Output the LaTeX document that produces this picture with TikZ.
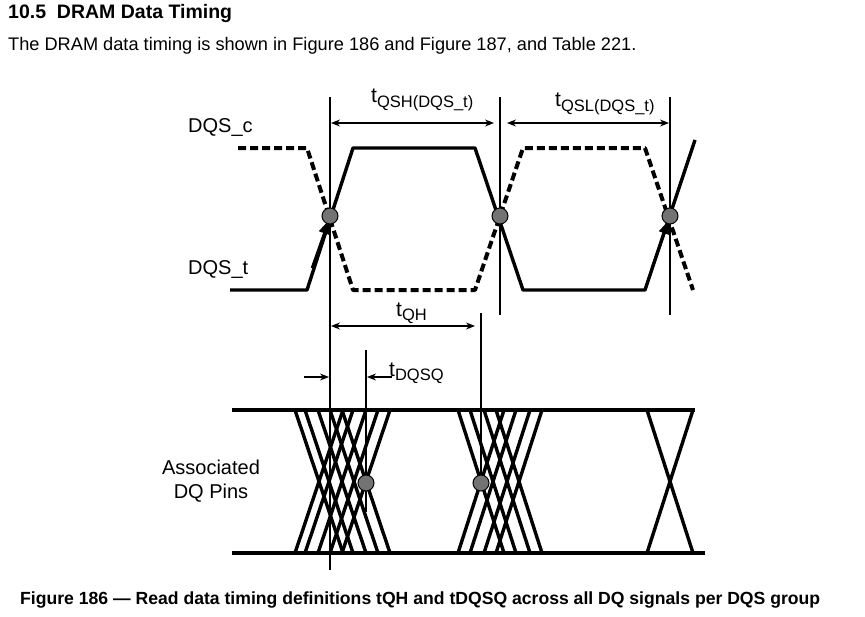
\documentclass[tikz,border=0pt]{standalone}
\usepackage{fontspec}
\setmainfont{Liberation Sans}
\usetikzlibrary{arrows.meta}
\begin{document}
\begin{tikzpicture}[x=1pt,y=-1pt,
  sig/.style={line width=3.4pt,line join=round},
  dsig/.style={line width=4pt,dash pattern=on 8pt off 4pt,line join=round},
  vl/.style={line width=1.1pt},
  dim/.style={line width=1.1pt,{Stealth[length=9pt,width=7pt]}-{Stealth[length=9pt,width=7pt]}},
  one/.style={line width=1.1pt,-{Stealth[length=9pt,width=7pt]}},
  dot/.style={circle,fill=gray!90!black,draw=black,line width=1pt,inner sep=0pt,minimum size=16pt},
  lab/.style={font=\fontsize{20}{24}\selectfont,inner sep=0pt},
  tl/.style={font=\fontsize{21}{22}\selectfont,inner sep=0pt,anchor=west},
  sb/.style={}]
\useasboundingbox (0,0) rectangle (865,616);
\node[anchor=west,inner sep=0pt,font=\fontsize{19.5}{22}\selectfont\bfseries] (title) at (8,13) {10.5\ \ DRAM Data Timing};
\node[anchor=west,inner sep=0pt,font=\fontsize{18.2}{20}\selectfont] (sub) at (8,46) {The DRAM data timing is shown in Figure 186 and Figure 187, and Table 221.};
\node[lab,anchor=west] (dqsc) at (188,128) {DQS\_c};
\node[lab,anchor=west] (dqst) at (188,270) {DQS\_t};
\node[lab,align=center] (dq) at (211,481) {Associated\\DQ Pins};
\node[anchor=west,inner sep=0pt,font=\fontsize{17.6}{20}\selectfont\bfseries] (cap) at (20,600) {Figure 186 — Read data timing definitions tQH and tDQSQ across all DQ signals per DQS group};
\coordinate (a1) at (330,97); \coordinate (a2) at (330,570);
\coordinate (b1) at (500,97); \coordinate (b2) at (500,315);
\coordinate (c1) at (670,97); \coordinate (c2) at (670,315);
\coordinate (d1) at (481,313); \coordinate (d2) at (481,490);
\coordinate (e1) at (366,350); \coordinate (e2) at (366,512);
\draw[vl] (a1)--(a2); \draw[vl] (b1)--(b2); \draw[vl] (c1)--(c2);
\draw[vl] (d1)--(d2); \draw[vl] (e1)--(e2);
\draw[dsig] (238,148)--(307,148)--(353,290)--(475,290)--(523,148)--(645,148)--(693,290);
\draw[sig] (230,290)--(307,290)--(353,148)--(475,148)--(523,290)--(645,290)--(695,140);
\draw[line width=2.6pt,-{Triangle[length=14pt,width=11pt]}] (312,268)--(329,220);
\draw[line width=2.6pt,-{Triangle[length=14pt,width=11pt]}] (652,268)--(669,220);
\node[dot] (x1) at (330,216) {};
\node[dot] (x2) at (500,216) {};
\node[dot] (x3) at (670,216) {};
\coordinate (q1) at (331,123); \coordinate (q2) at (494,123);
\draw[dim] (q1)--(q2);
\node[tl] (tqsh) at (371,100) {t\raisebox{-0.4ex}{\fontsize{16.5}{17}\selectfont QSH(DQS\_t)}};
\coordinate (r1) at (507,123); \coordinate (r2) at (669,123);
\draw[dim] (r1)--(r2);
\node[tl] (tqsl) at (555,104) {t\raisebox{-0.4ex}{\fontsize{16.5}{17}\selectfont QSL(DQS\_t)}};
\coordinate (h1) at (331,326); \coordinate (h2) at (475,326);
\draw[dim] (h1)--(h2);
\node[tl] (tqh) at (396,313) {t\raisebox{-0.4ex}{\fontsize{16.5}{17}\selectfont QH}};
\coordinate (s1) at (304,377); \coordinate (s2) at (329,377);
\draw[one] (s1)--(s2);
\coordinate (s3) at (392,377); \coordinate (s4) at (367,377);
\draw[one] (s3)--(s4);
\node[tl] (tdqsq) at (389,373) {t\raisebox{-0.4ex}{\fontsize{16.5}{17}\selectfont DQSQ}};
\draw[sig] (232,410)--(695,410);
\draw[sig] (232,553)--(705,553);
\foreach \L/\W in {295/48,305/48,318/48,330/48,342/48,458/46,470/46,484/46,496/46,647/46}{
  \draw[sig] (\L,410)--(\L+\W,553);
  \draw[sig] (\L+\W,410)--(\L,553);
}
\node[dot] (p1) at (366,483) {};
\node[dot] (p2) at (481,483) {};
\end{tikzpicture}
\end{document}
